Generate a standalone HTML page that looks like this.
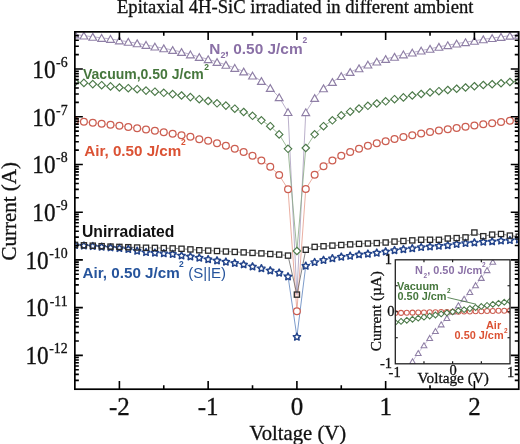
<!DOCTYPE html><html><head><meta charset="utf-8"><title>I-V plot</title>
<style>html,body{margin:0;padding:0;background:#fff;}svg{display:block;}.serif{font-family:"Liberation Serif","Times New Roman",serif;stroke:#111;stroke-width:0.3px;}.sans{font-family:"Liberation Sans",Arial,sans-serif;font-weight:bold;}</style></head><body>
<svg width="520" height="444" viewBox="0 0 520 444">
<rect width="520" height="444" fill="#fff"/>
<text class="serif" x="117" y="13.2" font-size="18.6" fill="#111">Epitaxial 4H-SiC irradiated in different ambient</text>
<g id="data" clip-path="url(#clipmain)">
<defs><clipPath id="clipmain"><rect x="74.85" y="31.85" width="443.9" height="357.34999999999997"/></clipPath></defs>
<polyline points="75.02,34.5 83.9,35.6 92.78,36.8 101.65,37.9 110.52,38.9 119.4,40.4 128.27,41.8 137.15,43.3 146.02,44.9 154.9,46.6 163.77,48.3 172.65,50 181.52,52 190.4,54.4 199.27,57 208.15,59.2 217.02,62 225.9,64.8 234.77,67.9 243.65,71.5 252.52,75.6 261.4,81 270.27,88 279.15,97.2 288.02,112.1 296.9,294.5 305.77,112.2 314.65,98 323.52,88.3 332.4,82 341.27,76.1 350.15,72 359.02,68.3 367.9,64.6 376.77,61.6 385.65,59 394.52,56.8 403.4,54.4 412.27,52.6 421.15,50.6 430.02,48.8 438.9,46.8 447.77,45.2 456.65,43.6 465.52,42.2 474.4,40.8 483.27,39.3 492.15,38.1 501.02,36.9 509.9,35.7 518.77,34.8" fill="none" stroke="#a89cbc" stroke-width="0.8" stroke-opacity="1.0"/>
<polyline points="75.02,82.1 83.9,82.9 92.78,84.1 101.65,85.2 110.52,86.4 119.4,87.5 128.27,88.2 137.15,89.2 146.02,90.6 154.9,91.7 163.77,92.8 172.65,94.1 181.52,95.5 190.4,97.1 199.27,99.2 208.15,101 217.02,103.3 225.9,105.6 234.77,108.7 243.65,112 252.52,115.8 261.4,120.3 270.27,126.2 279.15,134.4 288.02,148.8 296.9,251 305.77,148 314.65,134.3 323.52,126.2 332.4,120.3 341.27,115.4 350.15,111.7 359.02,108.6 367.9,105.8 376.77,103.5 385.65,101.3 394.52,99.2 403.4,97.4 412.27,95.5 421.15,94 430.02,92.4 438.9,91.2 447.77,90 456.65,88.75 465.52,87.5 474.4,86.25 483.27,85 492.15,84.25 501.02,83.25 509.9,82 518.77,81.25" fill="none" stroke="#86a882" stroke-width="0.8" stroke-opacity="1.0"/>
<polyline points="75.02,120.75 83.9,121.75 92.78,122.75 101.65,123.75 110.52,124.75 119.4,125.75 128.27,127 137.15,128.25 146.02,129.5 154.9,130.75 163.77,132.25 172.65,133.75 181.52,135.25 190.4,136.75 199.27,139.25 208.15,140.75 217.02,143.25 225.9,145.75 234.77,148.75 243.65,152 252.52,155.75 261.4,160.5 270.27,166.75 279.15,175 288.02,189.25 296.9,311.25 305.77,189 314.65,174.75 323.52,166.25 332.4,160.5 341.27,155.75 350.15,152 359.02,148.75 367.9,145.75 376.77,143.25 385.65,141.25 394.52,139 403.4,137 412.27,135.25 421.15,133.5 430.02,132 438.9,130.5 447.77,129.25 456.65,128 465.52,126.75 474.4,125.5 483.27,124.25 492.15,123.25 501.02,122 509.9,120.75 518.77,120" fill="none" stroke="#e49a8a" stroke-width="0.8" stroke-opacity="1.0"/>
<polyline points="75.02,244.9 83.9,245.4 92.78,245.9 101.65,246.6 110.52,247.2 119.4,247.9 128.27,248.8 137.15,250.6 146.02,251.9 154.9,252.5 163.77,253.1 172.65,253.75 181.52,255.3 190.4,256.25 199.27,257.5 208.15,259 217.02,260.25 225.9,261.5 234.77,262.75 243.65,264.2 252.52,266.25 261.4,268.1 270.27,270.25 279.15,272.5 288.02,276.25 296.9,336.6 305.77,265.6 314.65,261.9 323.52,259.75 332.4,258.1 341.27,256.5 350.15,255.6 359.02,254.2 367.9,253.5 376.77,252.5 385.65,251.25 394.52,250 403.4,249 412.27,248.1 421.15,246.9 430.02,246.25 438.9,245.6 447.77,245 456.65,243.75 465.52,242.8 474.4,242.3 483.27,241.5 492.15,241.2 501.02,240.4 509.9,239.9 518.77,239.3" fill="none" stroke="#5a82bc" stroke-width="0.8" stroke-opacity="1.0"/>
<path d="M78.22 245.04L80.7 245.16M87.1 245.44L89.58 245.56M95.97 245.88L98.46 246.02M104.85 246.34L107.33 246.46M113.72 246.71L116.2 246.79M122.6 247.01L125.08 247.09M131.47 247.31L133.95 247.39M140.35 247.59L142.83 247.66M149.22 247.8L151.7 247.85M158.1 247.97L160.58 248.03M166.97 248.21L169.45 248.29M175.85 248.53L178.33 248.62M184.72 248.98L187.21 249.17M193.59 249.71L196.09 249.94M202.47 250.38L204.95 250.47M211.35 250.74L213.83 250.86M220.22 251.18L222.71 251.32M229.1 251.64L231.58 251.76M237.97 252.08L240.46 252.22M246.84 252.58L249.33 252.72M255.72 253.08L258.21 253.22M264.59 253.62L267.08 253.78M273.47 254.22L275.96 254.38M282.33 254.96L284.85 255.24M288.74 258.72L296.19 291.48M297.52 291.46L305.15 252.89M308.82 248.77L311.6 247.88M317.84 246.67L320.33 246.48M326.72 246.02L329.21 245.83M335.59 245.38L338.08 245.22M344.47 244.78L346.96 244.62M353.34 244.22L355.83 244.08M362.22 243.76L364.7 243.64M371.1 243.36L373.58 243.24M379.97 242.88L382.46 242.72M388.83 242.18L391.34 241.92M397.72 241.38L400.21 241.22M406.59 240.78L409.08 240.62M415.47 240.17L417.96 239.98M424.35 239.75L426.82 239.75M433.22 239.77L435.7 239.78M442.07 239.34L444.61 238.96M450.97 238.36L453.45 238.24M459.84 237.85L462.33 237.65M468.33 235.85L471.6 234.05M477.35 233.73L480.32 234.97M486.42 235.63L489 235.17M495.34 234.38L497.83 234.22M504.17 234.57L506.75 235.03M513.08 235.99L515.6 236.31" fill="none" stroke="#666" stroke-width="0.8"/>
<g fill="#fff" stroke="#22438a" stroke-width="1.5" stroke-linejoin="round">
<polygon points="75.02,241.5 76.14,243.76 78.64,244.13 76.83,245.89 77.26,248.37 75.02,247.2 72.79,248.37 73.22,245.89 71.41,244.13 73.91,243.76"/><polygon points="83.9,242 85.02,244.26 87.51,244.63 85.71,246.39 86.13,248.87 83.9,247.7 81.67,248.87 82.09,246.39 80.29,244.63 82.78,244.26"/><polygon points="92.78,242.5 93.89,244.76 96.39,245.13 94.58,246.89 95.01,249.37 92.78,248.2 90.54,249.37 90.97,246.89 89.16,245.13 91.66,244.76"/><polygon points="101.65,243.2 102.77,245.46 105.26,245.83 103.46,247.59 103.88,250.07 101.65,248.9 99.42,250.07 99.84,247.59 98.04,245.83 100.53,245.46"/><polygon points="110.52,243.8 111.64,246.06 114.14,246.43 112.33,248.19 112.76,250.67 110.52,249.5 108.29,250.67 108.72,248.19 106.91,246.43 109.41,246.06"/><polygon points="119.4,244.5 120.52,246.76 123.01,247.13 121.21,248.89 121.63,251.37 119.4,250.2 117.17,251.37 117.59,248.89 115.79,247.13 118.28,246.76"/><polygon points="128.27,245.4 129.39,247.66 131.89,248.03 130.08,249.79 130.51,252.27 128.27,251.1 126.04,252.27 126.47,249.79 124.66,248.03 127.16,247.66"/><polygon points="137.15,247.2 138.27,249.46 140.76,249.83 138.96,251.59 139.38,254.07 137.15,252.9 134.92,254.07 135.34,251.59 133.54,249.83 136.03,249.46"/><polygon points="146.02,248.5 147.14,250.76 149.64,251.13 147.83,252.89 148.26,255.37 146.02,254.2 143.79,255.37 144.22,252.89 142.41,251.13 144.91,250.76"/><polygon points="154.9,249.1 156.02,251.36 158.51,251.73 156.71,253.49 157.13,255.97 154.9,254.8 152.67,255.97 153.09,253.49 151.29,251.73 153.78,251.36"/><polygon points="163.77,249.7 164.89,251.96 167.39,252.33 165.58,254.09 166.01,256.57 163.77,255.4 161.54,256.57 161.97,254.09 160.16,252.33 162.66,251.96"/><polygon points="172.65,250.35 173.77,252.61 176.26,252.98 174.46,254.74 174.88,257.22 172.65,256.05 170.42,257.22 170.84,254.74 169.04,252.98 171.53,252.61"/><polygon points="181.52,251.9 182.64,254.16 185.14,254.53 183.33,256.29 183.76,258.77 181.52,257.6 179.29,258.77 179.72,256.29 177.91,254.53 180.41,254.16"/><polygon points="190.4,252.85 191.52,255.11 194.01,255.48 192.21,257.24 192.63,259.72 190.4,258.55 188.17,259.72 188.59,257.24 186.79,255.48 189.28,255.11"/><polygon points="199.27,254.1 200.39,256.36 202.89,256.73 201.08,258.49 201.51,260.97 199.27,259.8 197.04,260.97 197.47,258.49 195.66,256.73 198.16,256.36"/><polygon points="208.15,255.6 209.27,257.86 211.76,258.23 209.96,259.99 210.38,262.47 208.15,261.3 205.92,262.47 206.34,259.99 204.54,258.23 207.03,257.86"/><polygon points="217.02,256.85 218.14,259.11 220.64,259.48 218.83,261.24 219.26,263.72 217.02,262.55 214.79,263.72 215.22,261.24 213.41,259.48 215.91,259.11"/><polygon points="225.9,258.1 227.02,260.36 229.51,260.73 227.71,262.49 228.13,264.97 225.9,263.8 223.67,264.97 224.09,262.49 222.29,260.73 224.78,260.36"/><polygon points="234.77,259.35 235.89,261.61 238.39,261.98 236.58,263.74 237.01,266.22 234.77,265.05 232.54,266.22 232.97,263.74 231.16,261.98 233.66,261.61"/><polygon points="243.65,260.8 244.77,263.06 247.26,263.43 245.46,265.19 245.88,267.67 243.65,266.5 241.42,267.67 241.84,265.19 240.04,263.43 242.53,263.06"/><polygon points="252.52,262.85 253.64,265.11 256.14,265.48 254.33,267.24 254.76,269.72 252.52,268.55 250.29,269.72 250.72,267.24 248.91,265.48 251.41,265.11"/><polygon points="261.4,264.7 262.52,266.96 265.01,267.33 263.21,269.09 263.63,271.57 261.4,270.4 259.17,271.57 259.59,269.09 257.79,267.33 260.28,266.96"/><polygon points="270.27,266.85 271.39,269.11 273.89,269.48 272.08,271.24 272.51,273.72 270.27,272.55 268.04,273.72 268.47,271.24 266.66,269.48 269.16,269.11"/><polygon points="279.15,269.1 280.27,271.36 282.76,271.73 280.96,273.49 281.38,275.97 279.15,274.8 276.92,275.97 277.34,273.49 275.54,271.73 278.03,271.36"/><polygon points="288.02,272.85 289.14,275.11 291.64,275.48 289.83,277.24 290.26,279.72 288.02,278.55 285.79,279.72 286.22,277.24 284.41,275.48 286.91,275.11"/><polygon points="296.9,333.2 298.02,335.46 300.51,335.83 298.71,337.59 299.13,340.07 296.9,338.9 294.67,340.07 295.09,337.59 293.29,335.83 295.78,335.46"/><polygon points="305.77,262.2 306.89,264.46 309.39,264.83 307.58,266.59 308.01,269.07 305.77,267.9 303.54,269.07 303.97,266.59 302.16,264.83 304.66,264.46"/><polygon points="314.65,258.5 315.77,260.76 318.26,261.13 316.46,262.89 316.88,265.37 314.65,264.2 312.42,265.37 312.84,262.89 311.04,261.13 313.53,260.76"/><polygon points="323.52,256.35 324.64,258.61 327.14,258.98 325.33,260.74 325.76,263.22 323.52,262.05 321.29,263.22 321.72,260.74 319.91,258.98 322.41,258.61"/><polygon points="332.4,254.7 333.52,256.96 336.01,257.33 334.21,259.09 334.63,261.57 332.4,260.4 330.17,261.57 330.59,259.09 328.79,257.33 331.28,256.96"/><polygon points="341.27,253.1 342.39,255.36 344.89,255.73 343.08,257.49 343.51,259.97 341.27,258.8 339.04,259.97 339.47,257.49 337.66,255.73 340.16,255.36"/><polygon points="350.15,252.2 351.27,254.46 353.76,254.83 351.96,256.59 352.38,259.07 350.15,257.9 347.92,259.07 348.34,256.59 346.54,254.83 349.03,254.46"/><polygon points="359.02,250.8 360.14,253.06 362.64,253.43 360.83,255.19 361.26,257.67 359.02,256.5 356.79,257.67 357.22,255.19 355.41,253.43 357.91,253.06"/><polygon points="367.9,250.1 369.02,252.36 371.51,252.73 369.71,254.49 370.13,256.97 367.9,255.8 365.67,256.97 366.09,254.49 364.29,252.73 366.78,252.36"/><polygon points="376.77,249.1 377.89,251.36 380.39,251.73 378.58,253.49 379.01,255.97 376.77,254.8 374.54,255.97 374.97,253.49 373.16,251.73 375.66,251.36"/><polygon points="385.65,247.85 386.77,250.11 389.26,250.48 387.46,252.24 387.88,254.72 385.65,253.55 383.42,254.72 383.84,252.24 382.04,250.48 384.53,250.11"/><polygon points="394.52,246.6 395.64,248.86 398.14,249.23 396.33,250.99 396.76,253.47 394.52,252.3 392.29,253.47 392.72,250.99 390.91,249.23 393.41,248.86"/><polygon points="403.4,245.6 404.52,247.86 407.01,248.23 405.21,249.99 405.63,252.47 403.4,251.3 401.17,252.47 401.59,249.99 399.79,248.23 402.28,247.86"/><polygon points="412.27,244.7 413.39,246.96 415.89,247.33 414.08,249.09 414.51,251.57 412.27,250.4 410.04,251.57 410.47,249.09 408.66,247.33 411.16,246.96"/><polygon points="421.15,243.5 422.27,245.76 424.76,246.13 422.96,247.89 423.38,250.37 421.15,249.2 418.92,250.37 419.34,247.89 417.54,246.13 420.03,245.76"/><polygon points="430.02,242.85 431.14,245.11 433.64,245.48 431.83,247.24 432.26,249.72 430.02,248.55 427.79,249.72 428.22,247.24 426.41,245.48 428.91,245.11"/><polygon points="438.9,242.2 440.02,244.46 442.51,244.83 440.71,246.59 441.13,249.07 438.9,247.9 436.67,249.07 437.09,246.59 435.29,244.83 437.78,244.46"/><polygon points="447.77,241.6 448.89,243.86 451.39,244.23 449.58,245.99 450.01,248.47 447.77,247.3 445.54,248.47 445.97,245.99 444.16,244.23 446.66,243.86"/><polygon points="456.65,240.35 457.77,242.61 460.26,242.98 458.46,244.74 458.88,247.22 456.65,246.05 454.42,247.22 454.84,244.74 453.04,242.98 455.53,242.61"/><polygon points="465.52,239.4 466.64,241.66 469.14,242.03 467.33,243.79 467.76,246.27 465.52,245.1 463.29,246.27 463.72,243.79 461.91,242.03 464.41,241.66"/><polygon points="474.4,238.9 475.52,241.16 478.01,241.53 476.21,243.29 476.63,245.77 474.4,244.6 472.17,245.77 472.59,243.29 470.79,241.53 473.28,241.16"/><polygon points="483.27,238.1 484.39,240.36 486.89,240.73 485.08,242.49 485.51,244.97 483.27,243.8 481.04,244.97 481.47,242.49 479.66,240.73 482.16,240.36"/><polygon points="492.15,237.8 493.27,240.06 495.76,240.43 493.96,242.19 494.38,244.67 492.15,243.5 489.92,244.67 490.34,242.19 488.54,240.43 491.03,240.06"/><polygon points="501.02,237 502.14,239.26 504.64,239.63 502.83,241.39 503.26,243.87 501.02,242.7 498.79,243.87 499.22,241.39 497.41,239.63 499.91,239.26"/><polygon points="509.9,236.5 511.02,238.76 513.51,239.13 511.71,240.89 512.13,243.37 509.9,242.2 507.67,243.37 508.09,240.89 506.29,239.13 508.78,238.76"/><polygon points="518.77,235.9 519.89,238.16 522.39,238.53 520.58,240.29 521.01,242.77 518.77,241.6 516.54,242.77 516.97,240.29 515.16,238.53 517.66,238.16"/>
</g>
<g fill="none" stroke="#2a2a2a" stroke-width="1.3">
<rect x="72.42" y="242.3" width="5.2" height="5.2"/><rect x="81.3" y="242.7" width="5.2" height="5.2"/><rect x="90.18" y="243.1" width="5.2" height="5.2"/><rect x="99.05" y="243.6" width="5.2" height="5.2"/><rect x="107.92" y="244" width="5.2" height="5.2"/><rect x="116.8" y="244.3" width="5.2" height="5.2"/><rect x="125.67" y="244.6" width="5.2" height="5.2"/><rect x="134.55" y="244.9" width="5.2" height="5.2"/><rect x="143.42" y="245.15" width="5.2" height="5.2"/><rect x="152.3" y="245.3" width="5.2" height="5.2"/><rect x="161.17" y="245.5" width="5.2" height="5.2"/><rect x="170.05" y="245.8" width="5.2" height="5.2"/><rect x="178.92" y="246.15" width="5.2" height="5.2"/><rect x="187.8" y="246.8" width="5.2" height="5.2"/><rect x="196.67" y="247.65" width="5.2" height="5.2"/><rect x="205.55" y="248" width="5.2" height="5.2"/><rect x="214.42" y="248.4" width="5.2" height="5.2"/><rect x="223.3" y="248.9" width="5.2" height="5.2"/><rect x="232.17" y="249.3" width="5.2" height="5.2"/><rect x="241.05" y="249.8" width="5.2" height="5.2"/><rect x="249.92" y="250.3" width="5.2" height="5.2"/><rect x="258.8" y="250.8" width="5.2" height="5.2"/><rect x="267.67" y="251.4" width="5.2" height="5.2"/><rect x="276.55" y="252" width="5.2" height="5.2"/><rect x="285.42" y="253" width="5.2" height="5.2"/><rect x="294.3" y="292" width="5.2" height="5.2"/><rect x="303.17" y="247.15" width="5.2" height="5.2"/><rect x="312.05" y="244.3" width="5.2" height="5.2"/><rect x="320.92" y="243.65" width="5.2" height="5.2"/><rect x="329.8" y="243" width="5.2" height="5.2"/><rect x="338.67" y="242.4" width="5.2" height="5.2"/><rect x="347.55" y="241.8" width="5.2" height="5.2"/><rect x="356.42" y="241.3" width="5.2" height="5.2"/><rect x="365.3" y="240.9" width="5.2" height="5.2"/><rect x="374.17" y="240.5" width="5.2" height="5.2"/><rect x="383.05" y="239.9" width="5.2" height="5.2"/><rect x="391.92" y="239" width="5.2" height="5.2"/><rect x="400.8" y="238.4" width="5.2" height="5.2"/><rect x="409.67" y="237.8" width="5.2" height="5.2"/><rect x="418.55" y="237.15" width="5.2" height="5.2"/><rect x="427.42" y="237.15" width="5.2" height="5.2"/><rect x="436.3" y="237.2" width="5.2" height="5.2"/><rect x="445.17" y="235.9" width="5.2" height="5.2"/><rect x="454.05" y="235.5" width="5.2" height="5.2"/><rect x="462.92" y="234.8" width="5.2" height="5.2"/><rect x="471.8" y="229.9" width="5.2" height="5.2"/><rect x="480.67" y="233.6" width="5.2" height="5.2"/><rect x="489.55" y="232" width="5.2" height="5.2"/><rect x="498.42" y="231.4" width="5.2" height="5.2"/><rect x="507.3" y="233" width="5.2" height="5.2"/><rect x="516.17" y="234.1" width="5.2" height="5.2"/>
</g>
<g fill="#fff" stroke="#cc5f52" stroke-width="1.25">
<circle cx="75.02" cy="120.75" r="3.4"/><circle cx="83.9" cy="121.75" r="3.4"/><circle cx="92.78" cy="122.75" r="3.4"/><circle cx="101.65" cy="123.75" r="3.4"/><circle cx="110.52" cy="124.75" r="3.4"/><circle cx="119.4" cy="125.75" r="3.4"/><circle cx="128.27" cy="127" r="3.4"/><circle cx="137.15" cy="128.25" r="3.4"/><circle cx="146.02" cy="129.5" r="3.4"/><circle cx="154.9" cy="130.75" r="3.4"/><circle cx="163.77" cy="132.25" r="3.4"/><circle cx="172.65" cy="133.75" r="3.4"/><circle cx="181.52" cy="135.25" r="3.4"/><circle cx="190.4" cy="136.75" r="3.4"/><circle cx="199.27" cy="139.25" r="3.4"/><circle cx="208.15" cy="140.75" r="3.4"/><circle cx="217.02" cy="143.25" r="3.4"/><circle cx="225.9" cy="145.75" r="3.4"/><circle cx="234.77" cy="148.75" r="3.4"/><circle cx="243.65" cy="152" r="3.4"/><circle cx="252.52" cy="155.75" r="3.4"/><circle cx="261.4" cy="160.5" r="3.4"/><circle cx="270.27" cy="166.75" r="3.4"/><circle cx="279.15" cy="175" r="3.4"/><circle cx="288.02" cy="189.25" r="3.4"/><circle cx="296.9" cy="311.25" r="3.4"/><circle cx="305.77" cy="189" r="3.4"/><circle cx="314.65" cy="174.75" r="3.4"/><circle cx="323.52" cy="166.25" r="3.4"/><circle cx="332.4" cy="160.5" r="3.4"/><circle cx="341.27" cy="155.75" r="3.4"/><circle cx="350.15" cy="152" r="3.4"/><circle cx="359.02" cy="148.75" r="3.4"/><circle cx="367.9" cy="145.75" r="3.4"/><circle cx="376.77" cy="143.25" r="3.4"/><circle cx="385.65" cy="141.25" r="3.4"/><circle cx="394.52" cy="139" r="3.4"/><circle cx="403.4" cy="137" r="3.4"/><circle cx="412.27" cy="135.25" r="3.4"/><circle cx="421.15" cy="133.5" r="3.4"/><circle cx="430.02" cy="132" r="3.4"/><circle cx="438.9" cy="130.5" r="3.4"/><circle cx="447.77" cy="129.25" r="3.4"/><circle cx="456.65" cy="128" r="3.4"/><circle cx="465.52" cy="126.75" r="3.4"/><circle cx="474.4" cy="125.5" r="3.4"/><circle cx="483.27" cy="124.25" r="3.4"/><circle cx="492.15" cy="123.25" r="3.4"/><circle cx="501.02" cy="122" r="3.4"/><circle cx="509.9" cy="120.75" r="3.4"/><circle cx="518.77" cy="120" r="3.4"/>
</g>
<g fill="#fff" stroke="#4d7a4a" stroke-width="1.15">
<path d="M75.02 78.35L78.77 82.1L75.02 85.85L71.27 82.1Z"/><path d="M83.9 79.15L87.65 82.9L83.9 86.65L80.15 82.9Z"/><path d="M92.78 80.35L96.53 84.1L92.78 87.85L89.03 84.1Z"/><path d="M101.65 81.45L105.4 85.2L101.65 88.95L97.9 85.2Z"/><path d="M110.52 82.65L114.27 86.4L110.52 90.15L106.77 86.4Z"/><path d="M119.4 83.75L123.15 87.5L119.4 91.25L115.65 87.5Z"/><path d="M128.27 84.45L132.02 88.2L128.27 91.95L124.52 88.2Z"/><path d="M137.15 85.45L140.9 89.2L137.15 92.95L133.4 89.2Z"/><path d="M146.02 86.85L149.77 90.6L146.02 94.35L142.27 90.6Z"/><path d="M154.9 87.95L158.65 91.7L154.9 95.45L151.15 91.7Z"/><path d="M163.77 89.05L167.52 92.8L163.77 96.55L160.02 92.8Z"/><path d="M172.65 90.35L176.4 94.1L172.65 97.85L168.9 94.1Z"/><path d="M181.52 91.75L185.27 95.5L181.52 99.25L177.77 95.5Z"/><path d="M190.4 93.35L194.15 97.1L190.4 100.85L186.65 97.1Z"/><path d="M199.27 95.45L203.02 99.2L199.27 102.95L195.52 99.2Z"/><path d="M208.15 97.25L211.9 101L208.15 104.75L204.4 101Z"/><path d="M217.02 99.55L220.77 103.3L217.02 107.05L213.27 103.3Z"/><path d="M225.9 101.85L229.65 105.6L225.9 109.35L222.15 105.6Z"/><path d="M234.77 104.95L238.52 108.7L234.77 112.45L231.02 108.7Z"/><path d="M243.65 108.25L247.4 112L243.65 115.75L239.9 112Z"/><path d="M252.52 112.05L256.27 115.8L252.52 119.55L248.77 115.8Z"/><path d="M261.4 116.55L265.15 120.3L261.4 124.05L257.65 120.3Z"/><path d="M270.27 122.45L274.02 126.2L270.27 129.95L266.52 126.2Z"/><path d="M279.15 130.65L282.9 134.4L279.15 138.15L275.4 134.4Z"/><path d="M288.02 145.05L291.77 148.8L288.02 152.55L284.27 148.8Z"/><path d="M296.9 247.25L300.65 251L296.9 254.75L293.15 251Z"/><path d="M305.77 144.25L309.52 148L305.77 151.75L302.02 148Z"/><path d="M314.65 130.55L318.4 134.3L314.65 138.05L310.9 134.3Z"/><path d="M323.52 122.45L327.27 126.2L323.52 129.95L319.77 126.2Z"/><path d="M332.4 116.55L336.15 120.3L332.4 124.05L328.65 120.3Z"/><path d="M341.27 111.65L345.02 115.4L341.27 119.15L337.52 115.4Z"/><path d="M350.15 107.95L353.9 111.7L350.15 115.45L346.4 111.7Z"/><path d="M359.02 104.85L362.77 108.6L359.02 112.35L355.27 108.6Z"/><path d="M367.9 102.05L371.65 105.8L367.9 109.55L364.15 105.8Z"/><path d="M376.77 99.75L380.52 103.5L376.77 107.25L373.02 103.5Z"/><path d="M385.65 97.55L389.4 101.3L385.65 105.05L381.9 101.3Z"/><path d="M394.52 95.45L398.27 99.2L394.52 102.95L390.77 99.2Z"/><path d="M403.4 93.65L407.15 97.4L403.4 101.15L399.65 97.4Z"/><path d="M412.27 91.75L416.02 95.5L412.27 99.25L408.52 95.5Z"/><path d="M421.15 90.25L424.9 94L421.15 97.75L417.4 94Z"/><path d="M430.02 88.65L433.77 92.4L430.02 96.15L426.27 92.4Z"/><path d="M438.9 87.45L442.65 91.2L438.9 94.95L435.15 91.2Z"/><path d="M447.77 86.25L451.52 90L447.77 93.75L444.02 90Z"/><path d="M456.65 85L460.4 88.75L456.65 92.5L452.9 88.75Z"/><path d="M465.52 83.75L469.27 87.5L465.52 91.25L461.77 87.5Z"/><path d="M474.4 82.5L478.15 86.25L474.4 90L470.65 86.25Z"/><path d="M483.27 81.25L487.02 85L483.27 88.75L479.52 85Z"/><path d="M492.15 80.5L495.9 84.25L492.15 88L488.4 84.25Z"/><path d="M501.02 79.5L504.77 83.25L501.02 87L497.27 83.25Z"/><path d="M509.9 78.25L513.65 82L509.9 85.75L506.15 82Z"/><path d="M518.77 77.5L522.52 81.25L518.77 85L515.02 81.25Z"/>
</g>
<g fill="#fff" stroke="#8f7fa6" stroke-width="1.15">
<path d="M75.02 31.09L78.92 37.91L71.12 37.91Z"/><path d="M83.9 32.19L87.8 39.01L80 39.01Z"/><path d="M92.78 33.39L96.68 40.21L88.88 40.21Z"/><path d="M101.65 34.49L105.55 41.31L97.75 41.31Z"/><path d="M110.52 35.49L114.42 42.31L106.62 42.31Z"/><path d="M119.4 36.99L123.3 43.81L115.5 43.81Z"/><path d="M128.27 38.39L132.17 45.21L124.37 45.21Z"/><path d="M137.15 39.89L141.05 46.71L133.25 46.71Z"/><path d="M146.02 41.49L149.92 48.31L142.12 48.31Z"/><path d="M154.9 43.19L158.8 50.01L151 50.01Z"/><path d="M163.77 44.89L167.67 51.71L159.87 51.71Z"/><path d="M172.65 46.59L176.55 53.41L168.75 53.41Z"/><path d="M181.52 48.59L185.42 55.41L177.62 55.41Z"/><path d="M190.4 50.99L194.3 57.81L186.5 57.81Z"/><path d="M199.27 53.59L203.17 60.41L195.37 60.41Z"/><path d="M208.15 55.79L212.05 62.61L204.25 62.61Z"/><path d="M217.02 58.59L220.92 65.41L213.12 65.41Z"/><path d="M225.9 61.39L229.8 68.21L222 68.21Z"/><path d="M234.77 64.49L238.67 71.31L230.87 71.31Z"/><path d="M243.65 68.09L247.55 74.91L239.75 74.91Z"/><path d="M252.52 72.19L256.42 79.01L248.62 79.01Z"/><path d="M261.4 77.59L265.3 84.41L257.5 84.41Z"/><path d="M270.27 84.59L274.17 91.41L266.38 91.41Z"/><path d="M279.15 93.79L283.05 100.61L275.25 100.61Z"/><path d="M288.02 108.69L291.92 115.51L284.12 115.51Z"/><path d="M305.77 108.79L309.67 115.61L301.88 115.61Z"/><path d="M314.65 94.59L318.55 101.41L310.75 101.41Z"/><path d="M323.52 84.89L327.42 91.71L319.62 91.71Z"/><path d="M332.4 78.59L336.3 85.41L328.5 85.41Z"/><path d="M341.27 72.69L345.17 79.51L337.38 79.51Z"/><path d="M350.15 68.59L354.05 75.41L346.25 75.41Z"/><path d="M359.02 64.89L362.92 71.71L355.12 71.71Z"/><path d="M367.9 61.19L371.8 68.01L364 68.01Z"/><path d="M376.77 58.19L380.67 65.01L372.88 65.01Z"/><path d="M385.65 55.59L389.55 62.41L381.75 62.41Z"/><path d="M394.52 53.39L398.42 60.21L390.62 60.21Z"/><path d="M403.4 50.99L407.3 57.81L399.5 57.81Z"/><path d="M412.27 49.19L416.17 56.01L408.38 56.01Z"/><path d="M421.15 47.19L425.05 54.01L417.25 54.01Z"/><path d="M430.02 45.39L433.92 52.21L426.12 52.21Z"/><path d="M438.9 43.39L442.8 50.21L435 50.21Z"/><path d="M447.77 41.79L451.67 48.61L443.88 48.61Z"/><path d="M456.65 40.19L460.55 47.01L452.75 47.01Z"/><path d="M465.52 38.79L469.42 45.61L461.62 45.61Z"/><path d="M474.4 37.39L478.3 44.21L470.5 44.21Z"/><path d="M483.27 35.89L487.17 42.71L479.38 42.71Z"/><path d="M492.15 34.69L496.05 41.51L488.25 41.51Z"/><path d="M501.02 33.49L504.92 40.31L497.12 40.31Z"/><path d="M509.9 32.29L513.8 39.11L506 39.11Z"/><path d="M518.77 31.39L522.67 38.21L514.88 38.21Z"/>
</g>
</g>
<path d="M119.4 389.2v-8.2M119.4 31.85v8.2M163.77 389.2v-4M163.77 31.85v4M208.15 389.2v-8.2M208.15 31.85v8.2M252.52 389.2v-4M252.52 31.85v4M296.9 389.2v-8.2M296.9 31.85v8.2M341.27 389.2v-4M341.27 31.85v4M385.65 389.2v-8.2M385.65 31.85v8.2M430.02 389.2v-4M430.02 31.85v4M474.4 389.2v-8.2M474.4 31.85v8.2M74.85 380.34h4M518.75 380.34h-4M74.85 374.37h4M518.75 374.37h-4M74.85 369.75h4M518.75 369.75h-4M74.85 365.97h4M518.75 365.97h-4M74.85 362.77h4M518.75 362.77h-4M74.85 360.01h4M518.75 360.01h-4M74.85 357.56h4M518.75 357.56h-4M74.85 355.38h8M518.75 355.38h-8M74.85 341.01h4M518.75 341.01h-4M74.85 332.61h4M518.75 332.61h-4M74.85 326.64h4M518.75 326.64h-4M74.85 322.02h4M518.75 322.02h-4M74.85 318.24h4M518.75 318.24h-4M74.85 315.04h4M518.75 315.04h-4M74.85 312.28h4M518.75 312.28h-4M74.85 309.83h4M518.75 309.83h-4M74.85 307.65h8M518.75 307.65h-8M74.85 293.28h4M518.75 293.28h-4M74.85 284.88h4M518.75 284.88h-4M74.85 278.91h4M518.75 278.91h-4M74.85 274.29h4M518.75 274.29h-4M74.85 270.51h4M518.75 270.51h-4M74.85 267.31h4M518.75 267.31h-4M74.85 264.55h4M518.75 264.55h-4M74.85 262.1h4M518.75 262.1h-4M74.85 259.92h8M518.75 259.92h-8M74.85 245.55h4M518.75 245.55h-4M74.85 237.15h4M518.75 237.15h-4M74.85 231.18h4M518.75 231.18h-4M74.85 226.56h4M518.75 226.56h-4M74.85 222.78h4M518.75 222.78h-4M74.85 219.58h4M518.75 219.58h-4M74.85 216.82h4M518.75 216.82h-4M74.85 214.37h4M518.75 214.37h-4M74.85 212.19h8M518.75 212.19h-8M74.85 197.82h4M518.75 197.82h-4M74.85 189.42h4M518.75 189.42h-4M74.85 183.45h4M518.75 183.45h-4M74.85 178.83h4M518.75 178.83h-4M74.85 175.05h4M518.75 175.05h-4M74.85 171.85h4M518.75 171.85h-4M74.85 169.09h4M518.75 169.09h-4M74.85 166.64h4M518.75 166.64h-4M74.85 164.46h8M518.75 164.46h-8M74.85 150.09h4M518.75 150.09h-4M74.85 141.69h4M518.75 141.69h-4M74.85 135.72h4M518.75 135.72h-4M74.85 131.1h4M518.75 131.1h-4M74.85 127.32h4M518.75 127.32h-4M74.85 124.12h4M518.75 124.12h-4M74.85 121.36h4M518.75 121.36h-4M74.85 118.91h4M518.75 118.91h-4M74.85 116.73h8M518.75 116.73h-8M74.85 102.36h4M518.75 102.36h-4M74.85 93.96h4M518.75 93.96h-4M74.85 87.99h4M518.75 87.99h-4M74.85 83.37h4M518.75 83.37h-4M74.85 79.59h4M518.75 79.59h-4M74.85 76.39h4M518.75 76.39h-4M74.85 73.63h4M518.75 73.63h-4M74.85 71.18h4M518.75 71.18h-4M74.85 69h8M518.75 69h-8M74.85 54.63h4M518.75 54.63h-4M74.85 46.23h4M518.75 46.23h-4M74.85 40.26h4M518.75 40.26h-4M74.85 35.64h4M518.75 35.64h-4" stroke="#000" stroke-width="1.6" fill="none"/>
<rect x="74.85" y="31.85" width="443.9" height="357.34999999999997" fill="none" stroke="#000" stroke-width="1.7"/>
<text class="serif" x="67.6" y="67" font-size="13.8" text-anchor="end" fill="#111">-6</text>
<text class="serif" x="55.5" y="77.8" font-size="25" text-anchor="end" textLength="23.2" lengthAdjust="spacingAndGlyphs" fill="#111">10</text>
<text class="serif" x="67.6" y="114.73" font-size="13.8" text-anchor="end" fill="#111">-7</text>
<text class="serif" x="55.5" y="125.53" font-size="25" text-anchor="end" textLength="23.2" lengthAdjust="spacingAndGlyphs" fill="#111">10</text>
<text class="serif" x="67.6" y="162.46" font-size="13.8" text-anchor="end" fill="#111">-8</text>
<text class="serif" x="55.5" y="173.26" font-size="25" text-anchor="end" textLength="23.2" lengthAdjust="spacingAndGlyphs" fill="#111">10</text>
<text class="serif" x="67.6" y="210.19" font-size="13.8" text-anchor="end" fill="#111">-9</text>
<text class="serif" x="55.5" y="220.99" font-size="25" text-anchor="end" textLength="23.2" lengthAdjust="spacingAndGlyphs" fill="#111">10</text>
<text class="serif" x="67.6" y="257.92" font-size="13.8" text-anchor="end" fill="#111">-10</text>
<text class="serif" x="48.6" y="268.72" font-size="25" text-anchor="end" textLength="23.2" lengthAdjust="spacingAndGlyphs" fill="#111">10</text>
<text class="serif" x="67.6" y="305.65" font-size="13.8" text-anchor="end" fill="#111">-11</text>
<text class="serif" x="48.6" y="316.45" font-size="25" text-anchor="end" textLength="23.2" lengthAdjust="spacingAndGlyphs" fill="#111">10</text>
<text class="serif" x="67.6" y="353.38" font-size="13.8" text-anchor="end" fill="#111">-12</text>
<text class="serif" x="48.6" y="364.18" font-size="25" text-anchor="end" textLength="23.2" lengthAdjust="spacingAndGlyphs" fill="#111">10</text>
<text class="serif" x="119.4" y="414.6" font-size="25" text-anchor="middle" fill="#111">-2</text>
<text class="serif" x="208.15" y="414.6" font-size="25" text-anchor="middle" fill="#111">-1</text>
<text class="serif" x="296.9" y="414.6" font-size="25" text-anchor="middle" fill="#111">0</text>
<text class="serif" x="385.65" y="414.6" font-size="25" text-anchor="middle" fill="#111">1</text>
<text class="serif" x="474.4" y="414.6" font-size="25" text-anchor="middle" fill="#111">2</text>
<text class="serif" x="297.8" y="440" font-size="20.7" text-anchor="middle" fill="#111">Voltage (V)</text>
<text class="serif" transform="translate(15.5 211.3) rotate(-90)" x="0" y="0" font-size="21" text-anchor="middle" fill="#111">Current (A)</text>
<text class="sans" x="209.2" y="53.6" font-size="15.4" fill="#8a70a6">N</text>
<text class="sans" x="220.4" y="58" font-size="9" fill="#8a70a6">2</text>
<text class="sans" x="302.6" y="53.6" font-size="15.4" fill="#8a70a6" text-anchor="end">, 0.50 J/cm</text>
<text class="sans" x="302.6" y="43" font-size="8.5" fill="#8a70a6">2</text>
<text class="sans" x="83" y="78.8" font-size="14.0" fill="#46773d">Vacuum,0.50 J/cm</text>
<text class="sans" x="204.2" y="69.7" font-size="8.5" fill="#46773d">2</text>
<text class="sans" x="84.2" y="156.3" font-size="15.2" fill="#db5234">Air, 0.50 J/cm</text>
<text class="sans" x="181" y="145.3" font-size="8.5" fill="#db5234">2</text>
<text class="sans" x="82" y="237.4" font-size="15.7" fill="#111">Unirradiated</text>
<text class="sans" x="82.6" y="277.5" font-size="15.2" fill="#26549c">Air, 0.50 J/cm</text>
<text class="sans" x="179" y="267.2" font-size="8.5" fill="#26549c">2</text>
<text class="sans" x="188.3" y="277.5" font-size="15" fill="#26549c" style="font-weight:normal">(S||E)</text>
<rect x="395.3" y="259.8" width="114.69999999999999" height="104.0" fill="#fff"/>
<defs><clipPath id="clipin"><rect x="395.3" y="259.8" width="114.69999999999999" height="104.0"/></clipPath></defs>
<g id="idata" clip-path="url(#clipin)">
<polyline points="395.3,390.58 401.03,380.01 406.77,370.28 412.5,361.3 418.24,352.97 423.97,345.21 429.71,337.91 435.44,330.99 441.18,324.35 446.91,317.9 452.65,311.54 458.38,305.18 464.12,298.73 469.85,292.09 475.59,285.17 481.32,277.87 487.06,270.11 492.79,261.78 498.53,252.8 504.26,243.07 510,232.5" fill="none" stroke="#a898c0" stroke-width="0.6" stroke-opacity="1.0"/>
<polyline points="395.3,313 401.03,312.88 406.77,312.76 412.5,312.64 418.24,312.52 423.97,312.4 429.71,312.28 435.44,312.16 441.18,312.04 446.91,311.92 452.65,311.8 458.38,311.68 464.12,311.56 469.85,311.44 475.59,311.32 481.32,311.2 487.06,311.08 492.79,310.96 498.53,310.84 504.26,310.72 510,310.6" fill="none" stroke="#e89a88" stroke-width="0.6" stroke-opacity="1.0"/>
<polyline points="395.3,322.46 401.03,321.39 406.77,320.33 412.5,319.26 418.24,318.2 423.97,317.13 429.71,316.06 435.44,315 441.18,313.93 446.91,312.87 452.65,311.8 458.38,310.73 464.12,309.67 469.85,308.6 475.59,307.54 481.32,306.47 487.06,305.4 492.79,304.34 498.53,303.27 504.26,302.21 510,301.14" fill="none" stroke="#7aa872" stroke-width="0.6" stroke-opacity="1.0"/>
<g fill="#fff" stroke="#8f7fa6" stroke-width="1.05">
<path d="M395.3 388.08L398.2 393.08L392.4 393.08Z"/><path d="M401.03 377.51L403.93 382.51L398.13 382.51Z"/><path d="M406.77 367.78L409.67 372.78L403.87 372.78Z"/><path d="M412.5 358.8L415.4 363.8L409.61 363.8Z"/><path d="M418.24 350.47L421.14 355.47L415.34 355.47Z"/><path d="M423.97 342.71L426.87 347.71L421.07 347.71Z"/><path d="M429.71 335.41L432.61 340.41L426.81 340.41Z"/><path d="M435.44 328.49L438.34 333.49L432.55 333.49Z"/><path d="M441.18 321.85L444.08 326.85L438.28 326.85Z"/><path d="M446.91 315.4L449.81 320.4L444.01 320.4Z"/><path d="M452.65 309.04L455.55 314.04L449.75 314.04Z"/><path d="M458.38 302.68L461.28 307.68L455.49 307.68Z"/><path d="M464.12 296.23L467.02 301.23L461.22 301.23Z"/><path d="M469.85 289.59L472.75 294.59L466.95 294.59Z"/><path d="M475.59 282.67L478.49 287.67L472.69 287.67Z"/><path d="M481.32 275.37L484.22 280.37L478.43 280.37Z"/><path d="M487.06 267.61L489.96 272.61L484.16 272.61Z"/><path d="M492.79 259.28L495.69 264.28L489.89 264.28Z"/><path d="M498.53 250.3L501.43 255.3L495.63 255.3Z"/><path d="M504.26 240.57L507.16 245.57L501.37 245.57Z"/><path d="M510 230L512.9 235L507.1 235Z"/>
</g>
<g fill="#fff" stroke="#cc5f52" stroke-width="1.05">
<circle cx="395.3" cy="313" r="2.5"/><circle cx="401.03" cy="312.88" r="2.5"/><circle cx="406.77" cy="312.76" r="2.5"/><circle cx="412.5" cy="312.64" r="2.5"/><circle cx="418.24" cy="312.52" r="2.5"/><circle cx="423.97" cy="312.4" r="2.5"/><circle cx="429.71" cy="312.28" r="2.5"/><circle cx="435.44" cy="312.16" r="2.5"/><circle cx="441.18" cy="312.04" r="2.5"/><circle cx="446.91" cy="311.92" r="2.5"/><circle cx="452.65" cy="311.8" r="2.5"/><circle cx="458.38" cy="311.68" r="2.5"/><circle cx="464.12" cy="311.56" r="2.5"/><circle cx="469.85" cy="311.44" r="2.5"/><circle cx="475.59" cy="311.32" r="2.5"/><circle cx="481.32" cy="311.2" r="2.5"/><circle cx="487.06" cy="311.08" r="2.5"/><circle cx="492.79" cy="310.96" r="2.5"/><circle cx="498.53" cy="310.84" r="2.5"/><circle cx="504.26" cy="310.72" r="2.5"/><circle cx="510" cy="310.6" r="2.5"/>
</g>
<g fill="#fff" stroke="#4d7a4a" stroke-width="1.05">
<path d="M395.3 319.56L398.2 322.46L395.3 325.36L392.4 322.46Z"/><path d="M401.03 318.49L403.93 321.39L401.03 324.29L398.13 321.39Z"/><path d="M406.77 317.43L409.67 320.33L406.77 323.23L403.87 320.33Z"/><path d="M412.5 316.36L415.4 319.26L412.5 322.16L409.61 319.26Z"/><path d="M418.24 315.3L421.14 318.2L418.24 321.1L415.34 318.2Z"/><path d="M423.97 314.23L426.87 317.13L423.97 320.03L421.07 317.13Z"/><path d="M429.71 313.16L432.61 316.06L429.71 318.96L426.81 316.06Z"/><path d="M435.44 312.1L438.34 315L435.44 317.9L432.55 315Z"/><path d="M441.18 311.03L444.08 313.93L441.18 316.83L438.28 313.93Z"/><path d="M446.91 309.97L449.81 312.87L446.91 315.77L444.01 312.87Z"/><path d="M452.65 308.9L455.55 311.8L452.65 314.7L449.75 311.8Z"/><path d="M458.38 307.83L461.28 310.73L458.38 313.63L455.49 310.73Z"/><path d="M464.12 306.77L467.02 309.67L464.12 312.57L461.22 309.67Z"/><path d="M469.85 305.7L472.75 308.6L469.85 311.5L466.95 308.6Z"/><path d="M475.59 304.64L478.49 307.54L475.59 310.44L472.69 307.54Z"/><path d="M481.32 303.57L484.22 306.47L481.32 309.37L478.43 306.47Z"/><path d="M487.06 302.5L489.96 305.4L487.06 308.3L484.16 305.4Z"/><path d="M492.79 301.44L495.69 304.34L492.79 307.24L489.89 304.34Z"/><path d="M498.53 300.37L501.43 303.27L498.53 306.17L495.63 303.27Z"/><path d="M504.26 299.31L507.16 302.21L504.26 305.11L501.37 302.21Z"/><path d="M510 298.24L512.9 301.14L510 304.04L507.1 301.14Z"/>
</g>
</g>
<path d="M447.5 297.5L476 304.2" stroke="#4d7a4a" stroke-width="0.9"/>
<path d="M423.97 363.8v-2.5M423.97 259.8v2.5M452.65 363.8v-2.5M452.65 259.8v2.5M481.32 363.8v-2.5M481.32 259.8v2.5M395.3 337.8h2.5M510 337.8h-2.5M395.3 311.8h2.5M510 311.8h-2.5M395.3 285.8h2.5M510 285.8h-2.5" stroke="#000" stroke-width="1.1" fill="none"/>
<rect x="395.3" y="259.8" width="114.69999999999999" height="104.0" fill="none" stroke="#222" stroke-width="1.3"/>
<g class="serif" font-size="14.5" fill="#111">
<text x="392" y="264" text-anchor="end">1</text>
<text x="394.5" y="316.2" text-anchor="end">0</text>
<text x="392" y="368" text-anchor="end">-1</text>
<text x="394.6" y="376.6" text-anchor="middle">-1</text>
<text x="453" y="374.7" text-anchor="middle">0</text>
<text x="510.5" y="376.6" text-anchor="middle">1</text>
</g>
<text class="serif" x="453.2" y="383.3" font-size="15.3" text-anchor="middle" fill="#111">Voltage (V)</text>
<text class="serif" transform="translate(380.6 311.2) rotate(-90)" font-size="15.2" text-anchor="middle" fill="#111">Current (µA)</text>
<text class="sans" x="415" y="274.4" font-size="10.9" fill="#8a70a6">N</text>
<text class="sans" x="423.6" y="277.6" font-size="6.5" fill="#8a70a6">2</text>
<text class="sans" x="482.3" y="274.4" font-size="10.9" fill="#8a70a6" text-anchor="end">, 0.50 J/cm</text>
<text class="sans" x="482" y="266.6" font-size="6.5" fill="#8a70a6">2</text>
<text class="sans" x="397" y="289.6" font-size="10.9" fill="#46773d">Vacuum</text>
<text class="sans" x="397.5" y="299.6" font-size="10.9" fill="#46773d">0.50 J/cm</text>
<text class="sans" x="447" y="292.7" font-size="6.5" fill="#46773d">2</text>
<text class="sans" x="486" y="328.5" font-size="10.9" fill="#db5234">Air</text>
<text class="sans" x="504" y="333" font-size="6.5" fill="#db5234">2</text>
<text class="sans" x="503.6" y="338.5" font-size="10.9" fill="#db5234" text-anchor="end">0.50 J/cm</text>
</svg></body></html>
